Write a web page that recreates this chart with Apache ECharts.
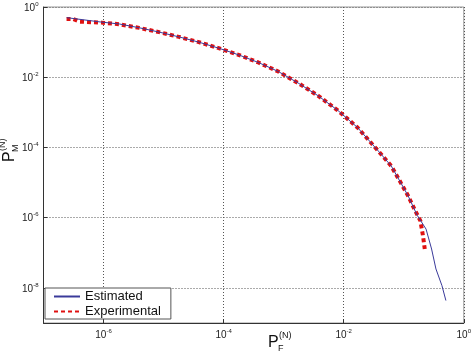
<!DOCTYPE html>
<html>
<head>
<meta charset="utf-8">
<script src="https://cdn.jsdelivr.net/npm/echarts@6/dist/echarts.min.js"></script>
<style>
  html, body { margin: 0; padding: 0; background: #fff; }
  #chart { width: 474px; height: 353px; }
</style>
</head>
<body>
<div id="chart"></div>
<script>
// P_F values and P_M values
const estimatedPF = [2.44e-7, 9.2e-7, 1.84e-6, 3.94e-6, 8.43e-6, 1.80e-5, 3.87e-5, 8.27e-5, 1.77e-4, 3.79e-4, 8.11e-4, 1.74e-3, 3.72e-3, 7.96e-3, 0.0170, 0.0379, 0.0621, 0.0909, 0.1186, 0.167, 0.2355, 0.291, 0.344, 0.433, 0.504]
const estimatedPM = [0.497, 0.372, 0.328, 0.256, 0.193, 0.141, 0.0997, 0.0673, 0.0435, 0.0263, 0.0146, 6.85e-3, 2.99e-3, 1.14e-3, 3.69e-4, 7.85e-5, 2.95e-5, 9.33e-6, 4.15e-6, 1.18e-6, 4.72e-7, 1.28e-7, 3.46e-8, 1.16e-8, 4.36e-9]

const experimentalPF = [2.42e-7, 3.1e-7, 4.0e-7, 9.2e-7, 1.84e-6, 3.94e-6, 8.43e-6, 1.80e-5, 3.87e-5, 8.27e-5, 1.77e-4, 3.79e-4, 8.11e-4, 1.74e-3, 3.72e-3, 7.96e-3, 0.0170, 0.0379, 0.0621, 0.0909, 0.1186, 0.1507, 0.1895, 0.210, 0.224]
const experimentalPM = [0.457, 0.457, 0.383, 0.359, 0.323, 0.254, 0.192, 0.141, 0.0997, 0.0673, 0.0435, 0.0263, 0.0146, 6.85e-3, 2.99e-3, 1.14e-3, 3.69e-4, 7.85e-5, 2.95e-5, 9.33e-6, 4.15e-6, 1.74e-6, 8.11e-7, 2.93e-7, 1.28e-7]

const xTicks = [1e-6, 1e-4, 1e-2, 1]
const yTicks = [1e-8, 1e-6, 1e-4, 1e-2, 1]

const font = '"Liberation Sans", Arial, sans-serif'

const chart = echarts.init(document.getElementById('chart'))

const pow10Label = (v) => '{b|10}{e|' + Math.round(Math.log10(v)) + '}'
const labelRich = {
  b: { fontSize: 10, color: '#222', fontFamily: font, verticalAlign: 'bottom', lineHeight: 12 },
  e: { fontSize: 6, color: '#222', fontFamily: font, verticalAlign: 'top', padding: [0, 0, 6, 0] }
}

const dotted = { color: '#555', type: [1, 2], width: 1 }

const option = {
  animation: false,
  backgroundColor: '#fff',
  grid: { left: 43.5, right: 7, top: 7, bottom: 30, show: true, borderColor: '#999', borderWidth: 1 },
  xAxis: {
    type: 'log', logBase: 10, min: 1e-7, max: 1,
    axisLine: { lineStyle: { color: '#333' } },
    axisTick: { inside: true, length: 4, customValues: xTicks, lineStyle: { color: '#333' } },
    axisLabel: { customValues: xTicks, formatter: pow10Label, rich: labelRich, margin: 5 },
    splitLine: { show: true, lineStyle: dotted },
    minorTick: { show: false }
  },
  yAxis: {
    type: 'log', logBase: 10, min: 1e-9, max: 1,
    axisLine: { lineStyle: { color: '#333' } },
    axisTick: { inside: true, length: 4, customValues: yTicks, lineStyle: { color: '#333' } },
    axisLabel: { customValues: yTicks, formatter: pow10Label, rich: labelRich, margin: 5 },
    splitLine: { show: true, lineStyle: dotted }
  },
  legend: {
    left: 45, top: 288, orient: 'vertical',
    backgroundColor: '#fff', borderColor: '#555', borderWidth: 1,
    padding: [2, 10, 1, 8], itemGap: 2, itemWidth: 26, itemHeight: 14,
    itemStyle: { opacity: 0 },
    textStyle: { fontFamily: font, fontSize: 13, color: '#111' },
    data: ['Estimated', 'Experimental']
  },
  series: [
    {
      name: 'Estimated', type: 'line', showSymbol: false, symbol: 'none',
      data: estimatedPF.map((x, i) => [x, estimatedPM[i]]),
      lineStyle: { color: '#3a3a9a', width: 1 },
      itemStyle: { color: '#3a3a9a' },
      z: 3
    },
    {
      name: 'Experimental', type: 'line', showSymbol: false, symbol: 'none',
      data: experimentalPF.map((x, i) => [x, experimentalPM[i]]),
      lineStyle: { color: '#e01010', width: 4, type: [4, 3], cap: 'butt' },
      itemStyle: { color: '#e01010' },
      z: 2
    }
  ],
  graphic: [
    {
      type: 'group', left: 268, top: 331,
      children: [
        { type: 'text', x: 0, y: 4, style: { text: 'P', fontSize: 16, fontFamily: font, fill: '#111' } },
        { type: 'text', x: 11, y: 0, style: { text: '(N)', fontSize: 9, fontFamily: font, fill: '#111' } },
        { type: 'text', x: 10, y: 13, style: { text: 'F', fontSize: 9, fontFamily: font, fill: '#111' } }
      ]
    },
    {
      type: 'group', x: -2, y: 162, rotation: Math.PI / 2,
      children: [
        { type: 'text', x: 0, y: 4, style: { text: 'P', fontSize: 16, fontFamily: font, fill: '#111' } },
        { type: 'text', x: 11, y: 0, style: { text: '(N)', fontSize: 9, fontFamily: font, fill: '#111' } },
        { type: 'text', x: 10, y: 13, style: { text: 'M', fontSize: 9, fontFamily: font, fill: '#111' } }
      ]
    }
  ]
}

chart.setOption(option)
</script>
</body>
</html>
